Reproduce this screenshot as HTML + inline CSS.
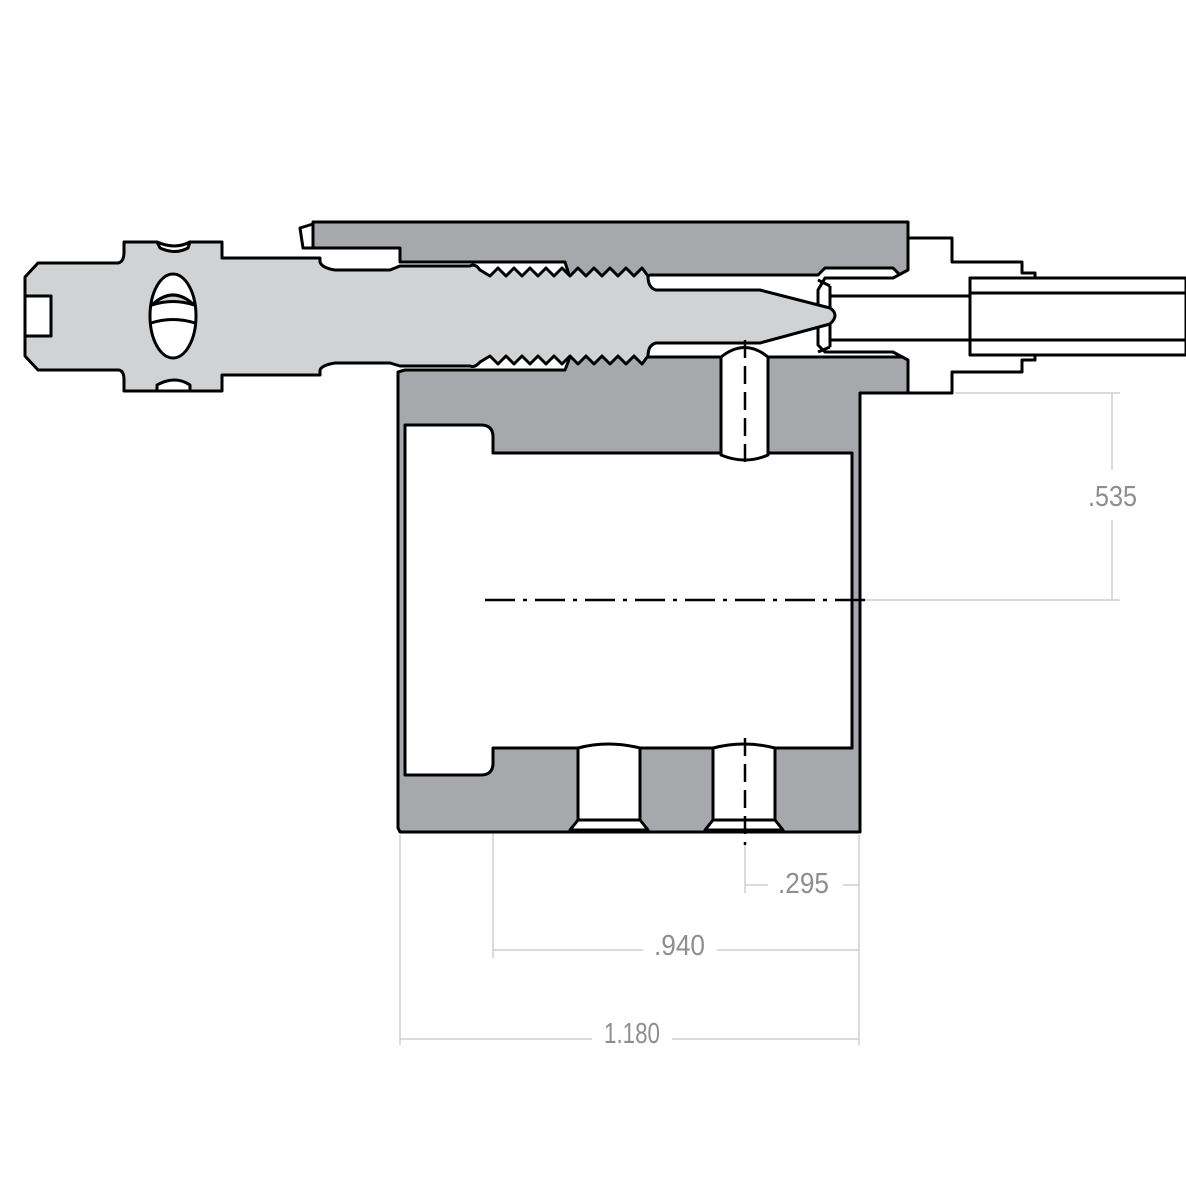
<!DOCTYPE html>
<html><head><meta charset="utf-8"><style>
html,body{margin:0;padding:0;background:#fff;}
svg{display:block}
.t{font-family:"Liberation Sans Narrow","Liberation Sans",sans-serif;font-size:29px;fill:#8d8e91;}
</style></head><body>
<svg width="1186" height="1186" viewBox="0 0 1186 1186" xmlns="http://www.w3.org/2000/svg">
<g fill="none" stroke="#cfcfd1" stroke-width="1.5">
<line x1="955" y1="393" x2="1120" y2="393"/>
<line x1="865" y1="600" x2="1120" y2="600"/>
<line x1="1112" y1="393" x2="1112" y2="470"/>
<line x1="1112" y1="520" x2="1112" y2="600"/>
<line x1="400" y1="835" x2="400" y2="1045"/>
<line x1="493" y1="770" x2="493" y2="958"/>
<line x1="859" y1="835" x2="859" y2="1045"/>
<line x1="745" y1="845" x2="745" y2="893"/>
<line x1="745" y1="885" x2="768" y2="885"/>
<line x1="843" y1="885" x2="859" y2="885"/>
<line x1="493" y1="950" x2="643" y2="950"/>
<line x1="717" y1="950" x2="859" y2="950"/>
<line x1="400" y1="1039" x2="592" y2="1039"/>
<line x1="672" y1="1039" x2="859" y2="1039"/>
</g>
<text class="t" x="1088" y="506" textLength="49" lengthAdjust="spacingAndGlyphs">.535</text>
<text class="t" x="778" y="893" textLength="51" lengthAdjust="spacingAndGlyphs">.295</text>
<text class="t" x="654" y="955" textLength="51" lengthAdjust="spacingAndGlyphs">.940</text>
<text class="t" x="604" y="1043" textLength="56" lengthAdjust="spacingAndGlyphs">1.180</text>

<g stroke="#000" stroke-width="3" stroke-linejoin="round">
<path fill="#a7a8ab" d="M313,222 H908 V272 L903,278 L893,268 H825 L818,275 H650 L645,278 H570 L565,262 H400 V248 H313 Z"/>
<path fill="#fff" d="M300,228 L313,224 V248 H303 Z"/>
<path fill="#a7a8ab" d="M405,370 H478 L565,370 L570,357 H908 V393 H860 V832 H400 L398,828 V372 Z"/>
<path fill="#fff" d="M405,425 H481 Q493,425 493,437 V453 H852 V748 H493 V763 Q493,775 481,775 H405 Z"/>
<line x1="852" y1="453" x2="852" y2="748"/>
<path fill="#fff" d="M721,357 Q745,338 768,357 V455 Q745,465 721,455 Z"/>
<path fill="#fff" d="M578,748 Q608,740 640,748 V820 L648,830 H570 L578,820 Z"/>
<line x1="578" y1="820" x2="640" y2="820"/>
<path fill="#fff" d="M713,748 Q744,740 775,748 V820 L783,830 H705 L713,820 Z"/>
<line x1="713" y1="820" x2="775" y2="820"/>
<path fill="#fff" d="M908,238 H952 V262 H1022 V273 H1035 V278 H970 V355 H1035 V360 H1022 V372 H952 V393 H908 V360 L893,352 H825 L818,345 V290 L825,278 H893 L908,270 Z"/>
<path fill="#fff" d="M970,278 H1186 V355 H970 Z"/>
<line x1="970" y1="293" x2="1186" y2="293"/>
<line x1="970" y1="340" x2="1186" y2="340"/>
<path fill="none" d="M830,286 V347 M818,280 L830,286 M818,352 L830,347 M830,296 H970 M830,340 H970"/>
<path fill="#d1d2d4" d="M25,277 L38,263 H118 Q124,262 124,252 V242 H157 Q175,250 190,242 H222 V258 H320 V262 Q322,268 335,270 H390 L400,266 H470 Q475,263 480,270 L490,276 L498,268 L506,276 L514,268 L522,276 L530,268 L538,276 L546,268 L554,276 L562,268 L570,276 L578,268 L586,276 L594,268 L602,276 L610,268 L618,276 L626,268 L634,276 L642,268 L648,276 Q648,288 656,290 H760 L830,308 Q840,315 830,324 L760,343 H656 Q648,345 648,356 L642,364 L634,356 L626,364 L618,356 L610,364 L602,356 L594,364 L586,356 L578,364 L570,356 L562,364 L554,356 L546,364 L538,356 L530,364 L522,356 L514,364 L506,356 L498,364 L490,356 L480,362 Q475,368 470,366 H400 L390,363 H335 Q322,365 320,370 V375 H222 V391 H190 Q175,383 157,391 H124 V380 Q124,370 118,370 H38 L25,356 Z"/>
<rect x="25" y="296" width="26" height="40" fill="#fff"/>
<ellipse cx="173" cy="316" rx="23" ry="42" fill="#fff"/>
<path fill="#d1d2d4" d="M152,305 Q173,285 194,305 Q173,298 152,305 Z"/>
<path fill="none" d="M151,323 Q173,316 195,323"/>
<path fill="#fff" d="M157,242 Q175,250 190,242 L188,248 Q175,255 160,248 Z"/>
<path fill="#fff" d="M157,391 V385 Q175,375 190,385 V391 Z"/>
</g>
<g stroke="#000" stroke-width="2.5" fill="none" stroke-dasharray="30,8,4,8">
<line x1="485" y1="600" x2="865" y2="600"/>
</g>
<g stroke="#000" stroke-width="2.5" fill="none" stroke-dasharray="18,8">
<line x1="745" y1="340" x2="745" y2="465"/>
<line x1="745" y1="738" x2="745" y2="845"/>
</g>
</svg>
</body></html>
